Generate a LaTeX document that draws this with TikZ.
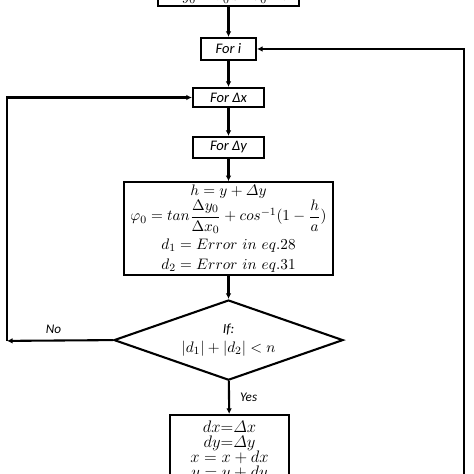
\documentclass[tikz,border=0pt]{standalone}
\usepackage{amsmath}
\usepackage{fontspec}
\newfontfamily\carlito{Carlito}
\usetikzlibrary{shapes.geometric,arrows.meta}

\begin{document}
\begin{tikzpicture}[
    boite/.style={draw, line width=1.5pt, inner sep=2pt, align=center},
    losange/.style={draw, diamond, aspect=2.86, line width=1.5pt, inner sep=0pt, align=center},
    fleche/.style={line width=1.5pt, -{Latex[length=4pt,width=4pt]}},
    etiq/.style={font=\carlito\itshape\fontsize{9.5}{11}\selectfont},
    formule/.style={font=\fontsize{11}{14}\selectfont}
]

\useasboundingbox (0,0) rectangle (12,-12);
\clip (0,0) rectangle (12,-12);

% positions des boites
\coordinate (P0) at (5.785,-0.177);
\coordinate (P1) at (5.785,-1.24);
\coordinate (P2) at (5.785,-2.468);
\coordinate (P3) at (5.785,-3.734);
\coordinate (P4) at (5.785,-5.785);
\coordinate (P5) at (5.785,-8.61);
\coordinate (P6) at (5.81,-10.48);
\coordinate (Gauche) at (0.177,-8.63);
\coordinate (Droite) at (11.75,-12.5);

% boites
\node[boite, formule, anchor=south, minimum width=3.57cm, minimum height=0.45cm, inner sep=0pt] (init) at (P0) {$\Delta y_0 = r_0 \sin\theta_0\,\Delta t$};
\node[boite, etiq, font=\carlito\itshape\fontsize{10.5}{12}\selectfont, minimum width=1.39cm, minimum height=0.557cm] (pouri) at (P1) {For i};
\node[boite, etiq, font=\carlito\itshape\fontsize{10.5}{12}\selectfont, minimum width=1.80cm, minimum height=0.48cm] (pourx) at (P2) {For Δx};
\node[boite, etiq, font=\carlito\itshape\fontsize{10.5}{12}\selectfont, minimum width=1.80cm, minimum height=0.53cm] (poury) at (P3) {For Δy};
\node[boite, formule, minimum width=5.29cm, minimum height=2.10cm] (calc) at (P4) {%
    $h = y + \varDelta y$\\
    $\varphi_0 = tan\dfrac{\Delta y_0}{\Delta x_0} + cos^{-1}(1-\dfrac{h}{a})$\\[3pt]
    $d_1 = Error\ in\ eq.28$\\
    $d_2 = Error\ in\ eq.31$};
\node[losange, formule, minimum width=5.8cm, minimum height=2.03cm] (test) at (P5) {%
    {\carlito\itshape\fontsize{10}{12}\selectfont If:}\\
    $|d_1| + |d_2| < n$};
\node[boite, formule, font=\fontsize{11.5}{10.8}\selectfont, anchor=north, minimum width=3.01cm, inner sep=4pt] (fin) at (P6) {%
    $dx{=}\varDelta x$\\
    $dy{=}\varDelta y$\\
    $x = x + dx$\\
    $y = y + dy$};

% fleches
\draw[fleche] (init.south) -- (pouri.north);
\draw[fleche] (pouri) -- (pourx);
\draw[fleche] (pourx) -- (poury);
\draw[fleche] (poury) -- (calc);
\draw[fleche] (calc) -- (test);
\draw[fleche] (test) -- node[etiq, right, xshift=4pt] {Yes} (fin);
\draw[fleche] (test.west) -- node[etiq, above, pos=0.56, yshift=1pt] {No} (Gauche);
\draw[fleche] (Gauche) |- (pourx.west);
\draw[fleche] (Droite) |- (pouri.east);
\end{tikzpicture}
\end{document}
